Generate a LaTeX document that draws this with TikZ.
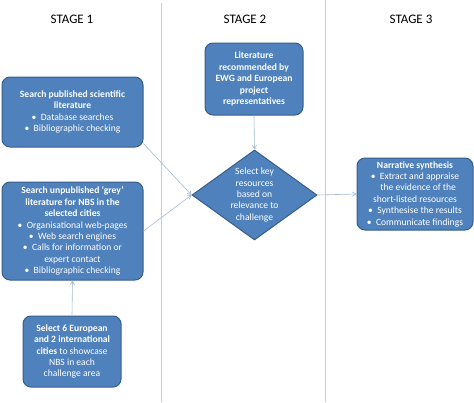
\documentclass[tikz,border=0pt]{standalone}
\usepackage{fontspec}
\setmainfont{Carlito}
\usepackage{tikz}
\usetikzlibrary{calc,shapes,shapes.geometric,arrows}
\definecolor{boxblue}{HTML}{4F81BD}
\definecolor{boxedge}{HTML}{385D8A}
\definecolor{linkblue}{HTML}{A3B8D2}
\definecolor{divgrey}{HTML}{C9CDD3}
\tikzset{
   stage node/.style={rectangle,rounded corners=8pt,fill=boxblue,draw=boxedge,line width=1pt,
                      text=white,align=center,inner sep=1pt,font=\fontsize{9.6}{11.4}\selectfont},
   choice node/.style={diamond,fill=boxblue,draw=boxedge,line width=1pt,text=white,align=center,
                       inner sep=-14pt,font=\fontsize{9.6}{11.4}\selectfont},
   title node/.style={font=\fontsize{13}{15}\selectfont}
}
\begin{document}
\begin{tikzpicture}[x=1pt,y=-1pt,
                    ->,>=angle 60,shorten >=0pt,
                    every edge/.style={draw=linkblue,line width=0.6pt}]
\useasboundingbox (0,0) rectangle (474,402);
% stage columns
\draw[-,divgrey,line width=0.8pt] (161,3) -- (161,402);
\draw[-,divgrey,line width=0.8pt] (325,0) -- (325,402);
\node[title node] (t1) at (72,19)  {STAGE 1};
\node[title node] (t2) at (245,19) {STAGE 2};
\node[title node] (t3) at (411,19) {STAGE 3};
%
\node[stage node,minimum width=141pt,minimum height=70pt] (1) at (72.5,112)
  {\textbf{Search published scientific}\\\textbf{literature}\\
   \textbullet\ \ Database searches\\\textbullet\ \ Bibliographic checking};
\node[stage node,minimum width=141pt,minimum height=98pt] (2) at (72.5,231)
  {\textbf{Search unpublished ‘grey’}\\\textbf{literature for NBS in the}\\\textbf{selected cities}\\
   \textbullet\ \ Organisational web-pages\\\textbullet\ \ Web search engines\\
   \textbullet\ \ Calls for information or\\expert contact\\\textbullet\ \ Bibliographic checking};
\node[stage node,minimum width=98pt,minimum height=71pt] (3) at (72,351.5)
  {\textbf{Select 6 European}\\\textbf{and 2 international}\\\textbf{cities} to showcase\\NBS in each\\challenge area};
\node[stage node,minimum width=98pt,minimum height=72pt] (4) at (254,79)
  {\textbf{Literature}\\\textbf{recommended by}\\\textbf{EWG and European}\\\textbf{project}\\\textbf{representatives}};
\node[choice node,minimum width=125pt,minimum height=90pt] (5) at (254.5,195)
  {Select key\\resources\\based on\\relevance to\\challenge};
\node[stage node,minimum width=116pt,minimum height=72pt] (6) at (415,194)
  {\textbf{Narrative synthesis}\\\textbullet\ \ Extract and appraise\\\ \ \ the evidence of the\\
   short-listed resources\\\textbullet\ \ Synthesise the results\\\textbullet\ \ Communicate findings};
%
\path
  (1.-24)  edge (5.west)
  (2.east) edge (5.west)
  (3.north) edge (2.south)
  (4.south) edge (5.north)
  (5.east) edge (6.west)
  ;
\end{tikzpicture}
\end{document}
